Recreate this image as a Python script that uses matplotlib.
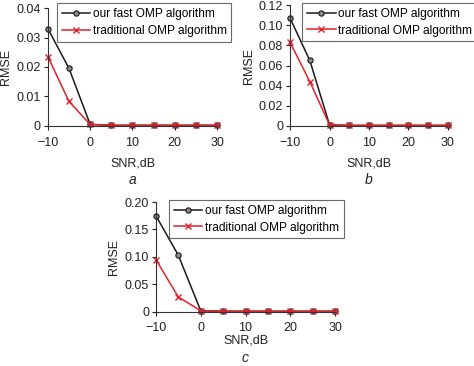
import matplotlib
matplotlib.use('Agg')
from matplotlib import pyplot as plt

plt.rcParams['font.family'] = ['Liberation Sans', 'DejaVu Sans']

snr = [-10, -5, 0, 5, 10, 15, 20, 25, 30]

fast_a = [0.033, 0.0195, 0.0005, 0.0002, 0.0002, 0.0002, 0.0002, 0.0002, 0.0002]
trad_a = [0.0235, 0.0083, 0.0005, 0.0002, 0.0002, 0.0002, 0.0002, 0.0002, 0.0002]

fast_b = [0.107, 0.065, 0.001, 0.0005, 0.0005, 0.0005, 0.0005, 0.0005, 0.0005]
trad_b = [0.083, 0.044, 0.001, 0.0005, 0.0005, 0.0005, 0.0005, 0.0005, 0.0005]

fast_c = [0.175, 0.103, 0.002, 0.001, 0.001, 0.001, 0.001, 0.001, 0.001]
trad_c = [0.095, 0.027, 0.002, 0.001, 0.001, 0.001, 0.001, 0.001, 0.001]

yticks_a = [0, 0.01, 0.02, 0.03, 0.04]
ylabels_a = ['0', '0.01', '0.02', '0.03', '0.04']
yticks_b = [0, 0.02, 0.04, 0.06, 0.08, 0.10, 0.12]
ylabels_b = ['0', '0.02', '0.04', '0.06', '0.08', '0.10', '0.12']
yticks_c = [0, 0.05, 0.10, 0.15, 0.20]
ylabels_c = ['0', '0.05', '0.10', '0.15', '0.20']

labels = ['our fast OMP algorithm', 'traditional OMP algorithm']
black = '#1a1a1a'
red = '#e3202b'

fig = plt.figure(figsize=(4.74, 3.66), dpi=100)


def panel(rect, fast, trad, yt, yl, letter, leg_anchor, letter_y, xpad=5, lpad=6):
    ax = fig.add_axes(rect)
    ax.plot(snr, fast, color=black, lw=1.1, marker='o', ms=3.8,
            mfc='#8a8a8a', mec=black, mew=0.8, label=labels[0])
    ax.plot(snr, trad, color=red, lw=1.1, marker='x', ms=4,
            mec=red, mew=1.0, label=labels[1])
    ax.set_xlim(-10, 30)
    ax.set_ylim(0, yt[-1])
    ax.set_xticks([-10, 0, 10, 20, 30])
    ax.set_xticklabels(['\u221210', '0', '10', '20', '30'])
    ax.set_yticks(yt)
    ax.set_yticklabels(yl)
    ax.spines['top'].set_visible(False)
    ax.spines['right'].set_visible(False)
    ax.spines['left'].set_color('#333333')
    ax.spines['bottom'].set_color('#333333')
    ax.tick_params(labelsize=9, length=3, width=0.8, colors='#222222')
    ax.tick_params(axis='x', pad=xpad)
    ax.tick_params(axis='y', pad=2)
    ax.set_xlabel('SNR,dB', fontsize=9, labelpad=lpad, color='#222222')
    ax.set_ylabel('RMSE', fontsize=9, labelpad=3, color='#222222')
    for ln in ax.lines:
        ln.set_clip_on(False)
    leg = ax.legend(loc='upper left', bbox_to_anchor=leg_anchor, fontsize=8.6,
                    frameon=True, fancybox=False, edgecolor='#444444',
                    handlelength=2.4, handletextpad=0.2, borderpad=0.4,
                    labelspacing=0.4, borderaxespad=0)
    leg.get_frame().set_linewidth(0.8)
    ax.text(0.5, letter_y, letter, transform=ax.transAxes, ha='center', va='center',
            fontsize=10, style='italic', color='#222222')
    return ax


panel([0.101, 0.656, 0.357, 0.322], fast_a, trad_a, yticks_a, ylabels_a, 'a', (0.053, 1.04), -0.46)
panel([0.612, 0.656, 0.333, 0.330], fast_b, trad_b, yticks_b, ylabels_b, 'b', (0.076, 1.017), -0.45)
panel([0.329, 0.148, 0.378, 0.300], fast_c, trad_c, yticks_c, ylabels_c, 'c', (0.073, 1.018), -0.425,
      xpad=4, lpad=1)

plt.savefig('out.png', dpi=100)
